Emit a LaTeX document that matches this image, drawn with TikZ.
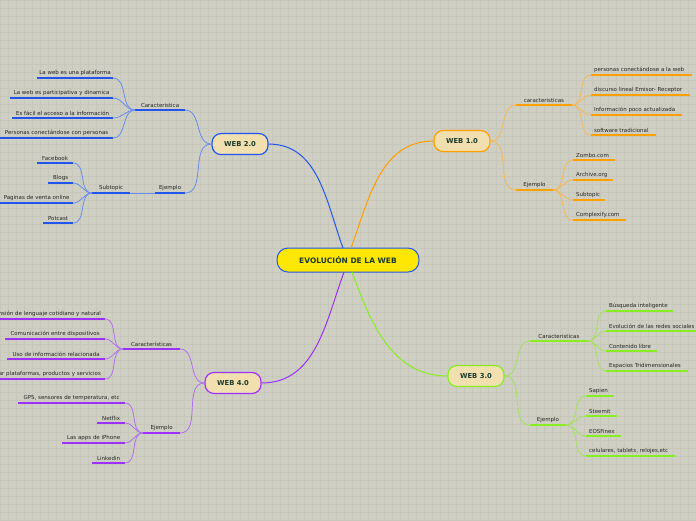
\documentclass[tikz,border=0pt]{standalone}
\usepackage{fontspec}
\setmainfont{DejaVu Sans}
\definecolor{bg}{HTML}{CFCFC3}
\definecolor{gridc}{HTML}{C7C7BB}
\definecolor{cblue}{HTML}{2255EE}
\definecolor{cblueL}{HTML}{6A8CF0}
\definecolor{corange}{HTML}{FFA000}
\definecolor{corangeL}{HTML}{F5B85A}
\definecolor{cgreen}{HTML}{88EE22}
\definecolor{cgreenL}{HTML}{A6E060}
\definecolor{cpurple}{HTML}{9B30FF}
\definecolor{cpurpleL}{HTML}{B070F0}
\definecolor{mfill}{HTML}{F1DFB0}
\definecolor{ctxt}{HTML}{1C3A2C}
\newcommand\leaf[6]{%
  \coordinate (#1a) at (#3,#5); \coordinate (#1b) at (#4,#5);
  \draw[ul,#2] (#1a)--(#1b);
  \node[lt,anchor=south] (#1t) at ({(#3+#4)/2},#5-1.5) {#6};}
\newcommand\rleaf[6]{%
  \coordinate (#1a) at (#3,#5); \coordinate (#1b) at (#4,#5);
  \draw[ul,#2] (#1a)--(#1b);
  \node[lt,anchor=south west] (#1t) at (#3+2,#5-1.5) {#6};}
\begin{document}
\begin{tikzpicture}[x=1pt,y=-1pt,
  ul/.style={line width=1.5pt},
  br/.style={line width=0.8pt},
  lt/.style={font=\fontsize{5.5}{6.5}\selectfont,text=black!85,inner sep=1pt},
  mn/.style={draw,line width=1.2pt,fill=mfill,rounded corners=9pt,minimum width=56pt,minimum height=21pt,font=\bfseries\fontsize{6.8}{8}\selectfont,text=ctxt}]
\fill[bg] (0,0) rectangle (696,520);
\foreach \i in {0,8,...,696} \draw[gridc,line width=0.25pt] (\i,0)--(\i,520);
\foreach \i in {0,8,...,520} \draw[gridc,line width=0.25pt] (0,\i)--(696,\i);
\useasboundingbox (0,0) rectangle (696,520);
\clip (0,0) rectangle (696,520);

\node[draw=cblue,line width=1pt,fill=yellow!90!orange,rounded corners=11pt,minimum width=142pt,minimum height=24pt,font=\bfseries\fontsize{7.5}{9}\selectfont,text=ctxt] (C) at (348,260) {EVOLUCIÓN DE LA WEB};
\node[mn,draw=cblue] (W2) at (240,144) {WEB 2.0};
\node[mn,draw=corange] (W1) at (462,141) {WEB 1.0};
\node[mn,draw=cgreen] (W3) at (476,376) {WEB 3.0};
\node[mn,draw=cpurple] (W4) at (233,383) {WEB 4.0};
\coordinate (C2) at (343,248); \coordinate (C1) at (351,248);
\coordinate (C3) at (352,272); \coordinate (C4) at (344,272);
\draw[cblue,line width=1pt] (C2) to[out=110,in=0] (W2.east);
\draw[corange,line width=1pt] (C1) to[out=70,in=180] (W1.west);
\draw[cgreen,line width=1pt] (C3) to[out=-70,in=180] (W3.west);
\draw[cpurple,line width=1pt] (C4) to[out=-110,in=0] (W4.east);

% WEB 2.0
\leaf{b1}{cblue}{135}{185}{110}{Caracteristica}
\leaf{b2}{cblue}{155}{185}{193}{Ejemplo}
\leaf{b3}{cblue}{92}{130}{193}{Subtopic}
\leaf{b11}{cblue}{37}{113}{78}{La web es una plataforma}
\leaf{b12}{cblue}{10}{113}{98}{La web es participativa y dinamica}
\leaf{b13}{cblue}{12}{113}{118}{Es fácil el acceso a la información}
\leaf{b14}{cblue}{0}{113}{138}{Personas conectándose con personas}
\leaf{b31}{cblue}{37}{73}{163}{Facebook}
\leaf{b32}{cblue}{48}{73}{183}{Blogs}
\leaf{b33}{cblue}{0}{73}{203}{Paginas de venta online}
\leaf{b34}{cblue}{43}{73}{223}{Potcast}
\draw[br,cblueL] (W2.west) to[out=180,in=0] (b1b);
\draw[br,cblueL] (W2.west) to[out=180,in=0] (b2b);
\draw[br,cblueL] (b2a) -- (b3b);
\foreach \k in {11,12,13,14} \draw[br,cblueL] (b1a) to[out=180,in=0] (b\k b);
\foreach \k in {31,32,33,34} \draw[br,cblueL] (b3a) to[out=180,in=0] (b\k b);

% WEB 4.0
\leaf{p1}{cpurple}{123}{180}{349}{Características}
\leaf{p2}{cpurple}{143}{180}{433}{Ejemplo}
\node[lt,anchor=south east] (p11t) at (102,317.5) {Comprensión de lenguaje cotidiano y natural};
\coordinate (p11b) at (105,319); \draw[ul,cpurple] (-5,319)--(p11b);
\leaf{p12}{cpurple}{5}{105}{339}{Comunicación entre dispositivos}
\leaf{p13}{cpurple}{7}{105}{359}{Uso de información relacionada}
\node[lt,anchor=south east] (p14t) at (102,377.5) {Integrar plataformas, productos y servicios};
\coordinate (p14b) at (105,379); \draw[ul,cpurple] (-5,379)--(p14b);
\leaf{p21}{cpurple}{18}{125}{403}{GPS, sensores de temperatura, etc}
\leaf{p22}{cpurple}{97}{125}{423}{Netflix}
\leaf{p23}{cpurple}{62}{125}{443}{Las apps de iPhone}
\leaf{p24}{cpurple}{92}{125}{463}{Linkedin}
\draw[br,cpurpleL] (W4.west) to[out=180,in=0] (p1b);
\draw[br,cpurpleL] (W4.west) to[out=180,in=0] (p2b);
\foreach \k in {11,12,13,14} \draw[br,cpurpleL] (p1a) to[out=180,in=0] (p\k b);
\foreach \k in {21,22,23,24} \draw[br,cpurpleL] (p2a) to[out=180,in=0] (p\k b);

% WEB 1.0
\leaf{o1}{corange}{516}{572}{105}{caracteristicas}
\leaf{o2}{corange}{516}{553}{190}{Ejemplo}
\rleaf{o11}{corange}{591}{692}{75}{personas conectándose a la web}
\rleaf{o12}{corange}{591}{690}{95}{discurso lineal Emisor- Receptor}
\rleaf{o13}{corange}{591}{682}{115}{Información poco actualizada}
\rleaf{o14}{corange}{591}{656}{135}{software tradicional}
\rleaf{o21}{corange}{573}{615}{160}{Zombo.com}
\rleaf{o22}{corange}{573}{613}{180}{Archive.org}
\rleaf{o23}{corange}{573}{605}{200}{Subtopic}
\rleaf{o24}{corange}{573}{626}{220}{Complexify.com}
\draw[br,corangeL] (W1.east) to[out=0,in=180] (o1a);
\draw[br,corangeL] (W1.east) to[out=0,in=180] (o2a);
\foreach \k in {11,12,13,14} \draw[br,corangeL] (o1b) to[out=0,in=180] (o\k a);
\foreach \k in {21,22,23,24} \draw[br,corangeL] (o2b) to[out=0,in=180] (o\k a);

% WEB 3.0
\leaf{g1}{cgreen}{530}{588}{341}{Caracteristicas}
\leaf{g2}{cgreen}{530}{566}{425}{Ejemplo}
\rleaf{g11}{cgreen}{606}{673}{311}{Búsqueda inteligente}
\rleaf{g12}{cgreen}{606}{700}{331}{Evolución de las redes sociales}
\rleaf{g13}{cgreen}{606}{657}{351}{Contenido libre}
\rleaf{g14}{cgreen}{606}{688}{371}{Espacios Tridimensionales}
\rleaf{g21}{cgreen}{586}{614}{396}{Sapien}
\rleaf{g22}{cgreen}{586}{617}{416}{Steemit}
\rleaf{g23}{cgreen}{586}{621}{436}{EOSFinex}
\rleaf{g24}{cgreen}{586}{675}{456}{celulares, tablets, relojes,etc}
\draw[br,cgreenL] (W3.east) to[out=0,in=180] (g1a);
\draw[br,cgreenL] (W3.east) to[out=0,in=180] (g2a);
\foreach \k in {11,12,13,14} \draw[br,cgreenL] (g1b) to[out=0,in=180] (g\k a);
\foreach \k in {21,22,23,24} \draw[br,cgreenL] (g2b) to[out=0,in=180] (g\k a);
\end{tikzpicture}
\end{document}
